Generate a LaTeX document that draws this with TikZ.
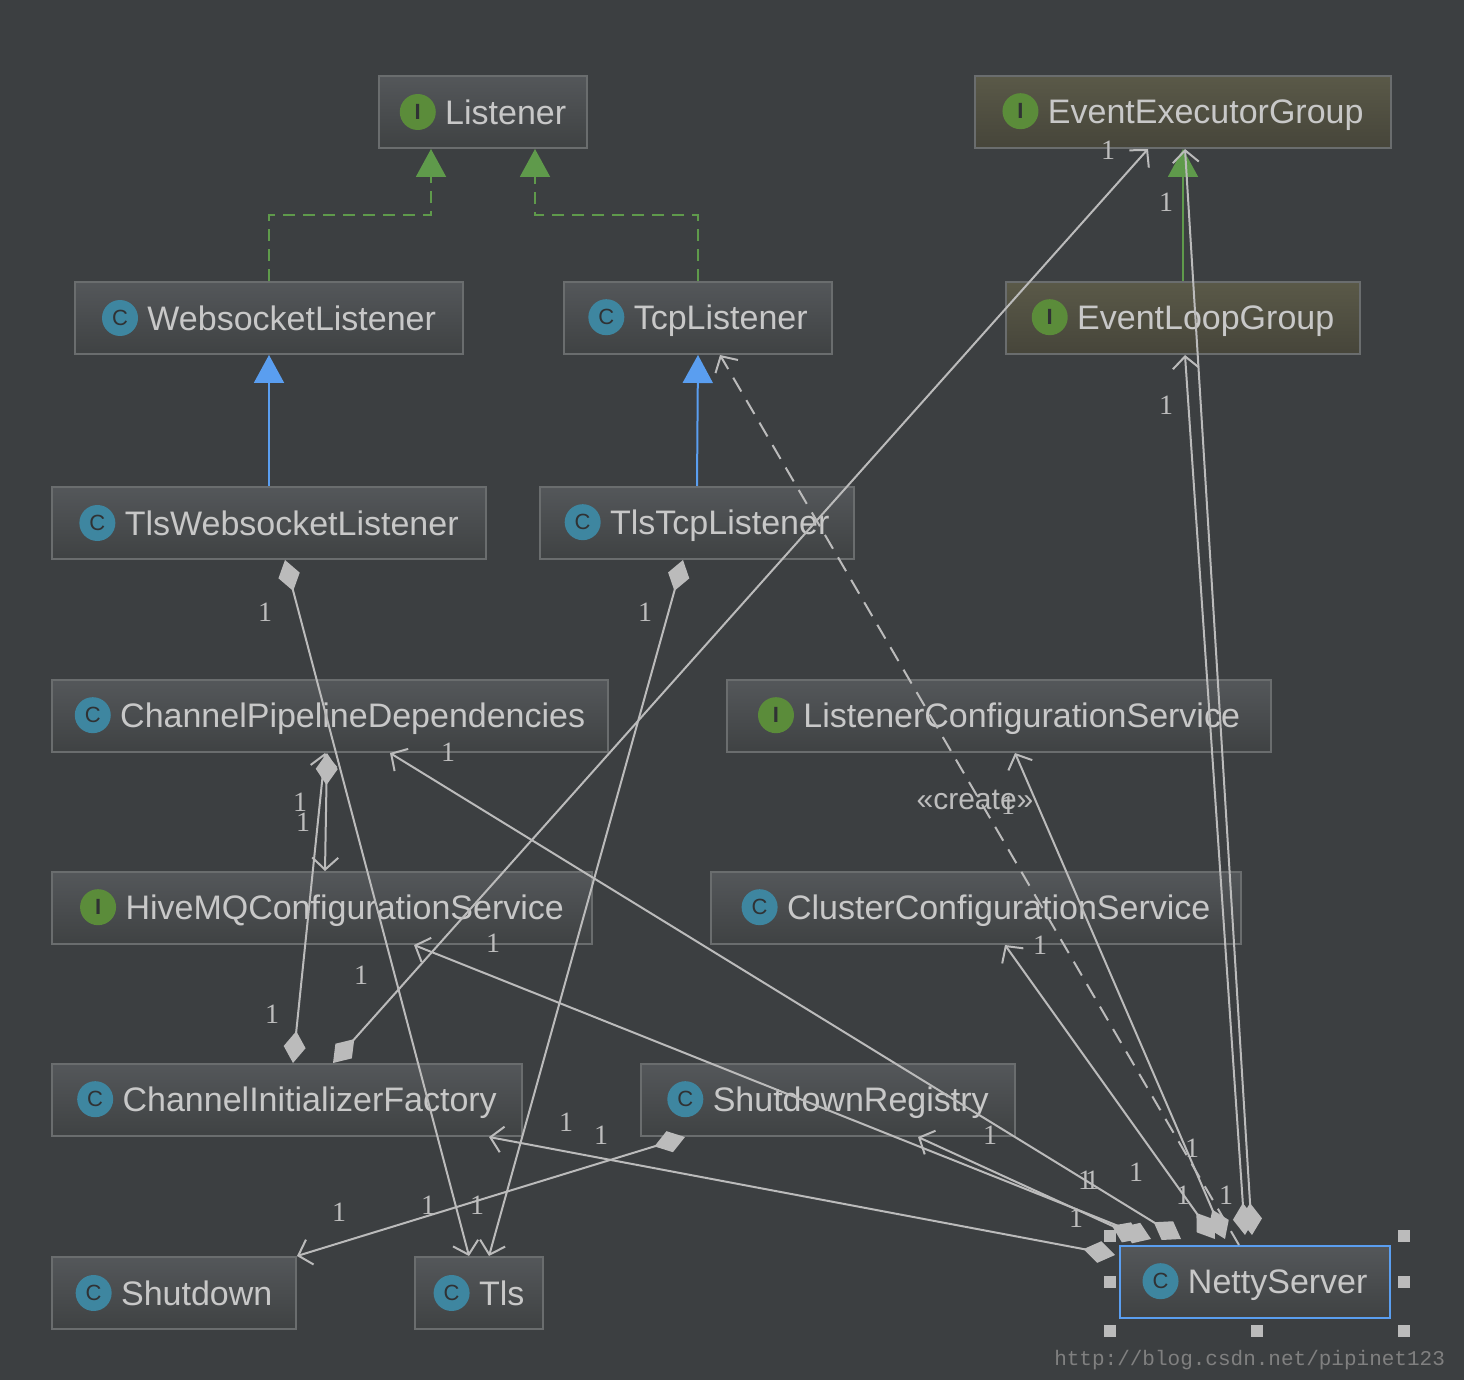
\documentclass[tikz,border=0pt]{standalone}
\usepackage{fontspec}
\setmainfont{Liberation Serif}
\setsansfont{Liberation Sans}
\setmonofont{Liberation Mono}
\usetikzlibrary{positioning,arrows.meta,calc}
\definecolor{bg}{HTML}{3C3F41}
\definecolor{boxtop}{HTML}{54575A}
\definecolor{boxbot}{HTML}{3F4243}
\definecolor{brtop}{HTML}{5A5948}
\definecolor{brbot}{HTML}{46453A}
\definecolor{edgec}{HTML}{6A6D6E}
\definecolor{txt}{HTML}{C8C8C8}
\definecolor{lin}{HTML}{BBBBBB}
\definecolor{realg}{HTML}{5F9A4B}
\definecolor{extb}{HTML}{5A9EF0}
\definecolor{ccol}{HTML}{3E86A0}
\definecolor{icol}{HTML}{5B8C3A}
\newcommand\iconc{\tikz[baseline=-0.7ex]\node[circle,fill=ccol,inner sep=0pt,minimum size=18pt,font=\fontsize{11}{11}\selectfont\sffamily,text=bg!80!black]{C};}
\newcommand\iconi{\tikz[baseline=-0.7ex]\node[circle,fill=icol,inner sep=0pt,minimum size=18pt,font=\fontsize{11}{11}\selectfont\sffamily\bfseries,text=bg!80!black]{I};}
\tikzset{
    x=0.5pt,
    y=-0.5pt,
    block/.style = {
        draw=edgec,
        shape=rectangle,
        top color=boxtop,
        bottom color=boxbot,
        minimum height=36pt,
        line width=1pt,
        text=txt,
        font=\fontsize{17}{20}\selectfont\sffamily
    },
    iface/.style = {
        block,
        top color=brtop,
        bottom color=brbot
    },
    mult/.style = {
        text=txt!85!gray,
        font=\fontsize{14}{14}\selectfont,
        inner sep=0pt
    },
    handle/.style = {
        fill=lin,
        minimum size=6pt,
        inner sep=0pt
    },
    comp/.style = {
        draw=lin,
        line width=1pt,
        {Diamond[fill=lin,length=16pt,width=11pt]}-{Straight Barb[length=6pt,width=13pt]}
    },
    dep/.style = {
        draw=lin,
        line width=1pt,
        dashed,
        dash pattern=on 8pt off 5pt,
        -{Straight Barb[length=6pt,width=13pt]}
    },
    realize/.style = {
        draw=realg,
        line width=1pt,
        dash pattern=on 6pt off 4pt,
        -{Triangle[fill=realg,length=14pt,width=15pt]}
    },
    extend/.style = {
        draw=extb,
        line width=1pt,
        -{Triangle[fill=extb,length=14pt,width=15pt]}
    },
}
\begin{document}
\begin{tikzpicture}
    \fill[bg] (0,0) rectangle (1464,1380);
    \useasboundingbox (0,0) rectangle (1464,1380);

    % class boxes
    \node[block, minimum width=104pt] (listener) at (483,112) {\iconi\ Listener};
    \node[iface, minimum width=208pt] (eeg) at (1183,112) {\iconi\ EventExecutorGroup};
    \node[block, minimum width=194pt] (wsl) at (269,318) {\iconc\ WebsocketListener};
    \node[block, minimum width=134pt] (tcpl) at (698,318) {\iconc\ TcpListener};
    \node[iface, minimum width=177pt] (elg) at (1183,318) {\iconi\ EventLoopGroup};
    \node[block, minimum width=217pt] (tlswsl) at (269,523) {\iconc\ TlsWebsocketListener};
    \node[block, minimum width=157pt] (tlstcp) at (697,523) {\iconc\ TlsTcpListener};
    \node[block, minimum width=278pt] (cpd) at (330,716) {\iconc\ ChannelPipelineDependencies};
    \node[block, minimum width=272pt] (lcs) at (999,716) {\iconi\ ListenerConfigurationService};
    \node[block, minimum width=270pt] (hive) at (322,908) {\iconi\ HiveMQConfigurationService};
    \node[block, minimum width=265pt] (ccs) at (976,908) {\iconc\ ClusterConfigurationService};
    \node[block, minimum width=235pt] (cif) at (287,1100) {\iconc\ ChannelInitializerFactory};
    \node[block, minimum width=187pt] (sreg) at (828,1100) {\iconc\ ShutdownRegistry};
    \node[block, minimum width=122pt] (shutdown) at (174,1293) {\iconc\ Shutdown};
    \node[block, minimum width=64pt] (tls) at (479,1293) {\iconc\ Tls};
    \node[block, draw=extb, minimum width=135pt] (netty) at (1255,1282) {\iconc\ NettyServer};

    % selection handles
    \foreach \hx/\hy [count=\i] in {1110/1236,1404/1236,1110/1282,1404/1282,1110/1331,1257/1331,1404/1331}
        \node[handle] (h\i) at (\hx,\hy) {};

    % inheritance
    \draw[realize] (wsl.north) |- ([xshift=-26pt]listener.south |- 0,215) -- ([xshift=-26pt]listener.south);
    \draw[realize] (tcpl.north) |- ([xshift=26pt]listener.south |- 0,215) -- ([xshift=26pt]listener.south);
    \draw[extend] (tlswsl.north) -- (wsl.south);
    \draw[extend] (tlstcp.north) -- (tcpl.south);
    \path[draw=realg, line width=1pt, -{Triangle[fill=realg,length=14pt,width=15pt]}] (elg.north) -- (eeg.south);

    % compositions
    \draw[comp] ([xshift=8pt]tlswsl.south) -- ([xshift=-5pt]tls.north);
    \draw[comp] ([xshift=-7pt]tlstcp.south) -- ([xshift=5pt]tls.north);
    \draw[comp] ([xshift=-1.5pt]cpd.south) -- ([xshift=1.5pt]hive.north);
    \draw[comp] ([xshift=3pt]cif.north) -- ([xshift=-2.5pt]cpd.south);
    \draw[comp] ([xshift=23pt]cif.north) -- ([xshift=-17.5pt]eeg.south);
    \draw[comp] ([xshift=-71.5pt]sreg.south) -- (shutdown.north east);
    \draw[comp] ([xshift=-70pt,yshift=-5pt]netty.north) -- ([xshift=-17pt]cif.south east);
    \draw[comp] ([xshift=-57pt,yshift=3pt]netty.north) -- ([xshift=45pt]sreg.south);
    \draw[comp] ([xshift=-52pt,yshift=3pt]netty.north) -- ([xshift=46pt]hive.south);
    \draw[comp] ([xshift=-37pt,yshift=3pt]netty.north) -- ([xshift=30pt]cpd.south);
    \draw[comp] ([xshift=-20pt,yshift=3pt]netty.north) -- ([xshift=14.5pt]ccs.south);
    \draw[comp] ([xshift=-15pt,yshift=3pt]netty.north) -- ([xshift=8pt]lcs.south);
    \draw[comp] ([xshift=-5pt,yshift=5pt]netty.north) -- ([xshift=1pt]elg.south);
    \draw[comp] ([xshift=-1.5pt,yshift=5pt]netty.north) -- ([xshift=1pt]eeg.south);
    \draw[dep] ([xshift=-8pt]netty.north) -- ([xshift=11pt]tcpl.south);
    \node[mult, font=\fontsize{15}{15}\selectfont\sffamily] (create) at (975,800) {«create»};

    % multiplicities
    \foreach \mx/\my [count=\i] in {265/612,645/612,1108/150,1166/202,1166/405,448/752,300/802,303/822,
        1008/805,493/943,361/975,1040/945,272/1014,566/1122,601/1135,990/1135,1085/1180,1092/1180,
        1136/1172,1192/1148,1183/1195,1226/1195,1076/1218,339/1212,428/1205,477/1205}
        \node[mult] (m\i) at (\mx,\my) {1};

    \node[text=gray, font=\fontsize{10.5}{10.5}\selectfont\ttfamily, anchor=east] (mark) at (1452,1360) {http://blog.csdn.net/pipinet123};
\end{tikzpicture}
\end{document}
